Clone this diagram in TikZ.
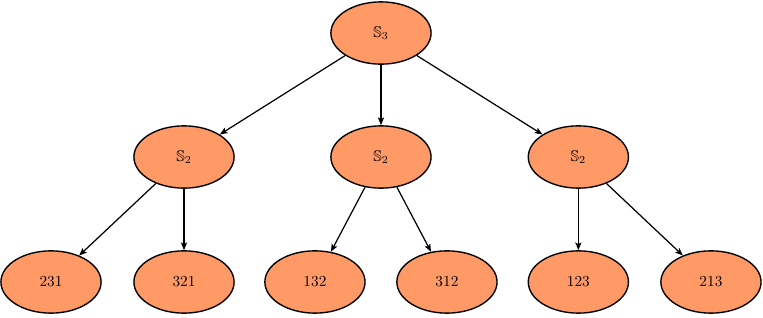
\documentclass[tikz,border=0pt]{standalone}
\usepackage{amsmath,amssymb}
\usepackage{tikz}
\usetikzlibrary{arrows.meta, shapes.geometric}
\definecolor{permorange}{RGB}{255,153,102}

\begin{document}
\begin{tikzpicture}[
        >={Stealth[length=5pt,width=4pt,inset=1pt]},
        grp/.style={draw, ellipse, fill=permorange, line width=0.9pt, minimum width=2.3cm, minimum height=1.43cm, inner sep=0pt},
        arr/.style={->, line width=0.8pt},
    ]
    \useasboundingbox (0,0) rectangle (17.52,-7.30);
    % group levels
    \node[grp] (s3) at (8.748, -0.758) {$\mathbb{S}_3$};
    \node[grp] (left) at (4.225, -3.605) {$\mathbb{S}_2$};
    \node[grp] (mid) at (8.748, -3.605) {$\mathbb{S}_2$};
    \node[grp] (right) at (13.28, -3.605) {$\mathbb{S}_2$};
    % permutations
    \node[grp] (p231) at (1.171, -6.475) {231};
    \node[grp] (p321) at (4.225, -6.475) {321};
    \node[grp] (p132) at (7.232, -6.475) {132};
    \node[grp] (p312) at (10.263, -6.475) {312};
    \node[grp] (p123) at (13.28, -6.475) {123};
    \node[grp] (p213) at (16.325, -6.475) {213};
    % edges
    \foreach \a/\b in {s3/left, s3/mid, s3/right, left/p231, left/p321, mid/p132, mid/p312, right/p123, right/p213}
        \draw[arr] (\a) -- (\b);
\end{tikzpicture}
\end{document}
